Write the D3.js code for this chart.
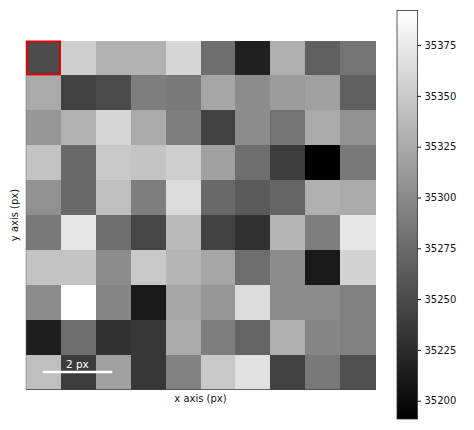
<!DOCTYPE html>
<html>
<head>
<meta charset="utf-8">
<script src="https://cdn.jsdelivr.net/npm/d3@7"></script>
<style>
  body { margin: 0; background: #fff; }
  text { font-family: "DejaVu Sans", sans-serif; }
</style>
</head>
<body>
<svg id="chart" width="474" height="430"></svg>
<script>
// pixel intensities, row by row (top to bottom)
const rows = [
  [35250, 35353, 35331, 35331, 35360, 35278, 35216, 35329, 35266, 35282],
  [35325, 35242, 35250, 35290, 35286, 35321, 35301, 35313, 35317, 35266],
  [35309, 35331, 35360, 35325, 35290, 35242, 35301, 35282, 35325, 35305],
  [35345, 35274, 35349, 35345, 35353, 35317, 35278, 35238, 35191, 35286],
  [35305, 35274, 35341, 35290, 35364, 35274, 35262, 35270, 35329, 35325],
  [35286, 35372, 35278, 35246, 35337, 35242, 35230, 35333, 35290, 35372],
  [35345, 35345, 35301, 35349, 35333, 35321, 35278, 35301, 35211, 35357],
  [35301, 35392, 35297, 35211, 35321, 35309, 35364, 35301, 35301, 35293],
  [35215, 35278, 35230, 35234, 35325, 35290, 35270, 35329, 35297, 35293],
  [35341, 35238, 35317, 35234, 35293, 35349, 35368, 35242, 35286, 35254]
];
const colorTicks = [35200, 35225, 35250, 35275, 35300, 35325, 35350, 35375];
const colorDomain = [35191, 35392];
const highlight = { col: 0, row: 0 };
const scaleBarPx = 2;

const svg = d3.select("#chart");

// image area
const imgLeft = 26, imgTop = 40.5, imgSize = 349;
const n = rows.length;

const x = d3.scaleLinear().domain([0, n]).range([imgLeft, imgLeft + imgSize]);
const y = d3.scaleLinear().domain([0, n]).range([imgTop, imgTop + imgSize]);
const color = d3.scaleLinear().domain(colorDomain).range(["#000000", "#ffffff"]).clamp(true);

const cells = [];
rows.forEach((r, i) => r.forEach((v, j) => cells.push({ row: i, col: j, v: v })));

svg.append("g")
  .selectAll("rect")
  .data(cells)
  .enter()
  .append("rect")
  .attr("x", d => x(d.col))
  .attr("y", d => y(d.row))
  .attr("width", x(1) - x(0) + 0.5)
  .attr("height", y(1) - y(0) + 0.5)
  .attr("fill", d => color(d.v))
  .attr("shape-rendering", "crispEdges");

// frame lines (left and bottom)
svg.append("line")
  .attr("x1", imgLeft).attr("x2", imgLeft + imgSize)
  .attr("y1", imgTop + imgSize).attr("y2", imgTop + imgSize)
  .attr("stroke", "#444").attr("stroke-width", 0.8);
svg.append("line")
  .attr("x1", imgLeft).attr("x2", imgLeft)
  .attr("y1", imgTop).attr("y2", imgTop + imgSize)
  .attr("stroke", "#777").attr("stroke-width", 0.6);

// red box round the selected pixel
svg.append("rect")
  .attr("x", x(highlight.col) + 1)
  .attr("y", y(highlight.row) + 1)
  .attr("width", x(1) - x(0) - 2)
  .attr("height", y(1) - y(0) - 2)
  .attr("fill", "none")
  .attr("stroke", "#e00000")
  .attr("stroke-width", 2);

// scale bar
const sbX = imgLeft + 16.5, sbY = 372;
svg.append("line")
  .attr("x1", sbX).attr("x2", sbX + (x(scaleBarPx) - x(0)))
  .attr("y1", sbY).attr("y2", sbY)
  .attr("stroke", "#fff").attr("stroke-width", 2.5);
svg.append("text")
  .attr("x", sbX + (x(scaleBarPx) - x(0)) / 2)
  .attr("y", sbY - 4)
  .attr("text-anchor", "middle")
  .style("font-size", "10.5px")
  .style("fill", "#fff")
  .text(scaleBarPx + " px");

// axis labels
svg.append("text")
  .attr("x", imgLeft + imgSize / 2)
  .attr("y", 402)
  .attr("text-anchor", "middle")
  .style("font-size", "10px")
  .style("fill", "#111")
  .text("x axis (px)");
svg.append("text")
  .attr("transform", `translate(18, ${imgTop + imgSize / 2}) rotate(-90)`)
  .attr("text-anchor", "middle")
  .style("font-size", "10px")
  .style("fill", "#111")
  .text("y axis (px)");

// colorbar
const cbX = 397, cbW = 20.5, cbTop = 10.5, cbBottom = 419;
const cy = d3.scaleLinear().domain(colorDomain).range([cbBottom, cbTop]);

const grad = svg.append("defs").append("linearGradient")
  .attr("id", "cbGrad")
  .attr("x1", 0).attr("y1", 1).attr("x2", 0).attr("y2", 0);
grad.append("stop").attr("offset", 0).attr("stop-color", color(colorDomain[0]));
grad.append("stop").attr("offset", 1).attr("stop-color", color(colorDomain[1]));

svg.append("rect")
  .attr("x", cbX).attr("y", cbTop)
  .attr("width", cbW).attr("height", cbBottom - cbTop)
  .attr("fill", "url(#cbGrad)")
  .attr("stroke", "#333").attr("stroke-width", 0.8);

const cbAxis = svg.append("g")
  .attr("transform", `translate(${cbX + cbW}, 0)`)
  .call(d3.axisRight(cy).tickValues(colorTicks).tickSize(3.5).tickPadding(3.5).tickFormat(d3.format("d")));
cbAxis.select(".domain").remove();
cbAxis.selectAll("text").style("font-size", "10px").style("font-family", "DejaVu Sans").attr("fill", "#111");
cbAxis.selectAll("line").attr("stroke", "#111");
</script>
</body>
</html>
